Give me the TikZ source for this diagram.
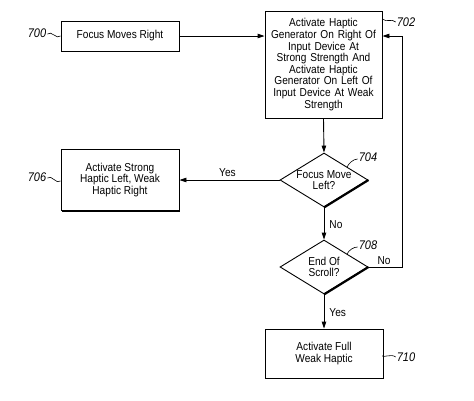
\documentclass[tikz,border=0pt]{standalone}
\usepackage{fontspec}
\setmainfont{Liberation Sans}[FakeStretch=0.88]
\usetikzlibrary{shapes.geometric,shadows,arrows.meta}
\begin{document}
\begin{tikzpicture}[x=1pt,y=-1pt,
  font=\fontsize{11.5}{11.6}\selectfont,
  box/.style={draw,line width=0.9pt,fill=white,align=center,inner sep=1pt,
    drop shadow={shadow xshift=1.3pt,shadow yshift=-1.3pt,opacity=1,fill=black}},
  dia/.style={draw,line width=0.9pt,diamond,minimum width=88,minimum height=54,inner sep=0pt},
  arr/.style={line width=0.9pt,-{Triangle[length=7pt,width=4.5pt]}},
  ref/.style={font=\itshape\fontsize{12.5}{13}\selectfont,inner sep=0pt},
  lbl/.style={inner sep=0pt},
  squig/.style={line width=0.6pt}]
\useasboundingbox (0,0) rectangle (474,400);
\node[box,minimum width=118,minimum height=30] (b700) at (120,36) {Focus Moves Right};
\node[box,minimum width=117,minimum height=107,text width=112] (b702) at (323.5,64.5)
  {Activate Haptic\\Generator On Right Of\\Input Device At\\Strong Strength And\\Activate Haptic\\Generator On Left Of\\Input Device At Weak\\Strength};
\node[dia,label={[align=center,inner sep=0pt]center:Focus Move\\Left?}] (d704) at (324,180) {};
\draw[line width=2.2pt] (d704.east) -- (d704.south);
\node[box,minimum width=118,minimum height=61] (b706) at (120,180) {Activate Strong\\Haptic Left, Weak\\Haptic Right};
\node[dia,label={[align=center,inner sep=0pt]center:End Of\\Scroll?}] (d708) at (324,267) {};
\draw[line width=2.2pt] (d708.east) -- (d708.south);
\node[box,minimum width=118,minimum height=49] (b710) at (324,353.5) {Activate Full\\Weak Haptic};

\draw[arr] (b700.east) -- (b700.east -| b702.west);
\draw[arr] (b702.south) -- (d704.north);
\draw[arr] (d704.west) -- (b706.east) node[lbl,midway,above=3pt,xshift=-2pt] (y1) {Yes};
\draw[arr] (d704.south) -- (d708.north) node[lbl,midway,right=5pt,yshift=-1pt] (n1) {No};
\coordinate (fb) at (402,267);
\draw[arr] (d708.east) -- (fb) |- (b702.east |- b700.east);
\node[lbl] (n2) at (384,261) {No};
\draw[arr] (d708.south) -- (b710.north) node[lbl,midway,right=5pt,yshift=-1pt] (y2) {Yes};

\node[ref] (r700) at (37,33) {700};
\draw[squig] (r700.east) ++(1,1) .. controls +(4,-4) and +(-4,4) .. (b700.west |- 0,36);
\node[ref] (r702) at (406,22) {702};
\draw[squig] (r702.west) ++(-1,0) .. controls +(-4,-4) and +(4,4) .. (b702.north east |- 0,19);
\node[ref] (r704) at (368,157) {704};
\draw[squig] (r704.west) ++(-1,2) .. controls +(-4,0) and +(2,-4) .. (347,167);
\node[ref] (r706) at (37,177) {706};
\draw[squig] (r706.east) ++(1,1) .. controls +(4,-4) and +(-4,4) .. (b706.west |- 0,181);
\node[ref] (r708) at (368,245) {708};
\draw[squig] (r708.west) ++(-1,2) .. controls +(-4,0) and +(2,-4) .. (347,254);
\node[ref] (r710) at (406,357) {710};
\draw[squig] (r710.west) ++(-1,0) .. controls +(-4,-4) and +(-4,4) .. (b710.east |- 0,355);
\end{tikzpicture}
\end{document}
